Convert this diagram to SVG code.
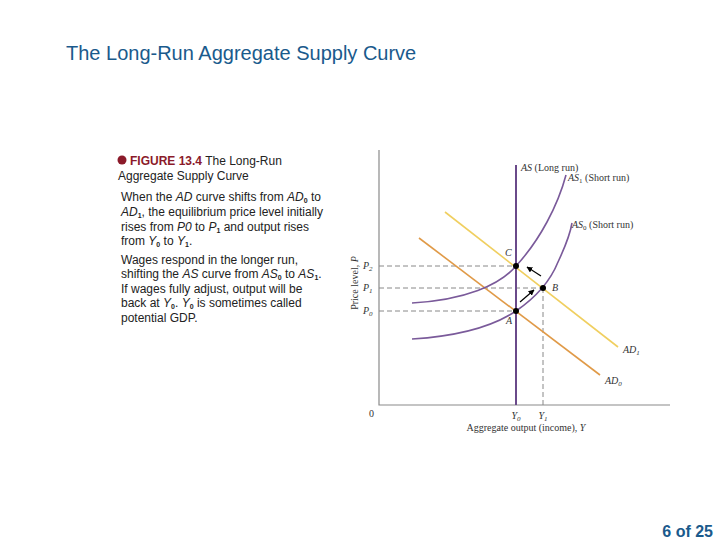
<svg xmlns="http://www.w3.org/2000/svg" width="720" height="540" viewBox="0 0 720 540">
<style>
.title{font-family:"Liberation Sans",Arial,sans-serif;font-size:20px;fill:#1a5a8c}
.cap{font-family:"Liberation Sans",Arial,sans-serif;font-size:12px;fill:#222}
.fig{font-weight:bold;fill:#8b1a2a}
.sub{font-size:7px;font-weight:bold}
.g{font-family:"Liberation Serif","Times New Roman",serif;font-size:10px;fill:#333}
.gs{font-size:7px}
.ax{stroke:#8a8a8a;stroke-width:1.2;fill:none}
.dash{stroke:#888;stroke-width:1;stroke-dasharray:5,3;fill:none}
.as{stroke:#7a5a9a;stroke-width:1.6;fill:none}
.pt{fill:#000}
.arr{stroke:#000;stroke-width:1.2;marker-end:url(#ah)}
.pg{font-family:"Liberation Sans",Arial,sans-serif;font-size:16px;font-weight:bold;fill:#1a5a8c}
</style>
<defs>
<marker id="ah" viewBox="0 0 10 10" refX="9" refY="5" markerWidth="5" markerHeight="5" orient="auto"><path d="M0,0L10,5L0,10z" fill="#000"/></marker>
</defs>
<rect width="720" height="540" fill="#fff"/>
<text class="title" x="66" y="60">The Long-Run Aggregate Supply Curve</text>

<g id="caption">
<circle cx="122" cy="160" r="4.5" fill="#8b1a2a"/>
<text class="cap" x="130" y="165"><tspan class="fig">FIGURE 13.4</tspan> The Long-Run</text>
<text class="cap" x="118" y="180">Aggregate Supply Curve</text>
<text class="cap" x="121" y="201">When the <tspan font-style="italic">AD</tspan> curve shifts from <tspan font-style="italic">AD</tspan><tspan class="sub" dy="2">0</tspan><tspan dy="-2"> to</tspan></text>
<text class="cap" x="121" y="216"><tspan font-style="italic">AD</tspan><tspan class="sub" dy="2">1</tspan><tspan dy="-2">, the equilibrium price level initially</tspan></text>
<text class="cap" x="121" y="231">rises from <tspan font-style="italic">P0</tspan> to <tspan font-style="italic">P</tspan><tspan class="sub" dy="2">1</tspan><tspan dy="-2"> and output rises</tspan></text>
<text class="cap" x="121" y="245">from <tspan font-style="italic">Y</tspan><tspan class="sub" dy="2">0</tspan><tspan dy="-2"> to </tspan><tspan font-style="italic">Y</tspan><tspan class="sub" dy="2">1</tspan><tspan dy="-2">.</tspan></text>
<text class="cap" x="121" y="264">Wages respond in the longer run,</text>
<text class="cap" x="121" y="278">shifting the <tspan font-style="italic">AS</tspan> curve from <tspan font-style="italic">AS</tspan><tspan class="sub" dy="2">0</tspan><tspan dy="-2"> to </tspan><tspan font-style="italic">AS</tspan><tspan class="sub" dy="2">1</tspan><tspan dy="-2">.</tspan></text>
<text class="cap" x="121" y="293">If wages fully adjust, output will be</text>
<text class="cap" x="121" y="307">back at <tspan font-style="italic">Y</tspan><tspan class="sub" dy="2">0</tspan><tspan dy="-2">. </tspan><tspan font-style="italic">Y</tspan><tspan class="sub" dy="2">0</tspan><tspan dy="-2"> is sometimes called</tspan></text>
<text class="cap" x="121" y="322">potential GDP.</text>
</g>

<g id="axes">
<path class="ax" d="M379,150 V405 H670"/>
<text class="g" x="369" y="417">0</text>
<text class="g" transform="translate(358,283) rotate(-90)" text-anchor="middle">Price level, <tspan font-style="italic">P</tspan></text>
<text class="g" x="526" y="431" text-anchor="middle">Aggregate output (income), <tspan font-style="italic">Y</tspan></text>
</g>

<g id="connectors">
<path class="dash" d="M379,266 H516 M379,288 H543 M379,311 H516 M543,288 V405"/>
<line class="arr" x1="541" y1="276" x2="527" y2="267"/>
<line class="arr" x1="520" y1="302" x2="534" y2="290"/>
</g>

<g id="AD0">
<line x1="419" y1="238" x2="600" y2="375" stroke="#e09a48" stroke-width="1.6"/>
<text class="g" x="605" y="384" font-style="italic">AD<tspan class="gs" dy="2">0</tspan></text>
</g>
<g id="AD1">
<line x1="445" y1="212" x2="618" y2="347" stroke="#f0cf60" stroke-width="1.6"/>
<text class="g" x="623" y="353" font-style="italic">AD<tspan class="gs" dy="2">1</tspan></text>
</g>

<g id="AS0">
<path class="as" d="M412,339 C460,336 495,325 516,311 C535,298 550,282 558,262 C566,245 570,235 572,223"/>
<text class="g" x="572" y="228"><tspan font-style="italic">AS</tspan><tspan class="gs" dy="2">0</tspan><tspan dy="-2"> (Short run)</tspan></text>
</g>
<g id="AS1">
<path class="as" d="M412,303 C465,300 500,285 516,266 C540,240 558,205 566,175"/>
<text class="g" x="568" y="181"><tspan font-style="italic">AS</tspan><tspan class="gs" dy="2">1</tspan><tspan dy="-2"> (Short run)</tspan></text>
</g>
<g id="ASLR">
<line x1="516" y1="165" x2="516" y2="405" stroke="#6a4a8a" stroke-width="2"/>
<text class="g" x="521" y="171"><tspan font-style="italic">AS</tspan> (Long run)</text>
</g>

<g id="pointC">
<circle class="pt" cx="516" cy="266" r="3"/>
<text class="g" x="505" y="256" font-style="italic">C</text>
<text class="g" x="363" y="269" font-style="italic">P<tspan class="gs" dy="2">2</tspan></text>
</g>
<g id="pointB">
<circle class="pt" cx="543" cy="288" r="3"/>
<text class="g" x="552" y="291" font-style="italic">B</text>
<text class="g" x="363" y="291" font-style="italic">P<tspan class="gs" dy="2">1</tspan></text>
<text class="g" x="543" y="419" text-anchor="middle" font-style="italic">Y<tspan class="gs" dy="2">1</tspan></text>
</g>
<g id="pointA">
<circle class="pt" cx="516" cy="311" r="3"/>
<text class="g" x="506" y="324" font-style="italic" font-size="8">A</text>
<text class="g" x="363" y="314" font-style="italic">P<tspan class="gs" dy="2">0</tspan></text>
<text class="g" x="516" y="419" text-anchor="middle" font-style="italic">Y<tspan class="gs" dy="2">0</tspan></text>
</g>

<text class="pg" x="713" y="537" text-anchor="end">6 of 25</text>
</svg>
